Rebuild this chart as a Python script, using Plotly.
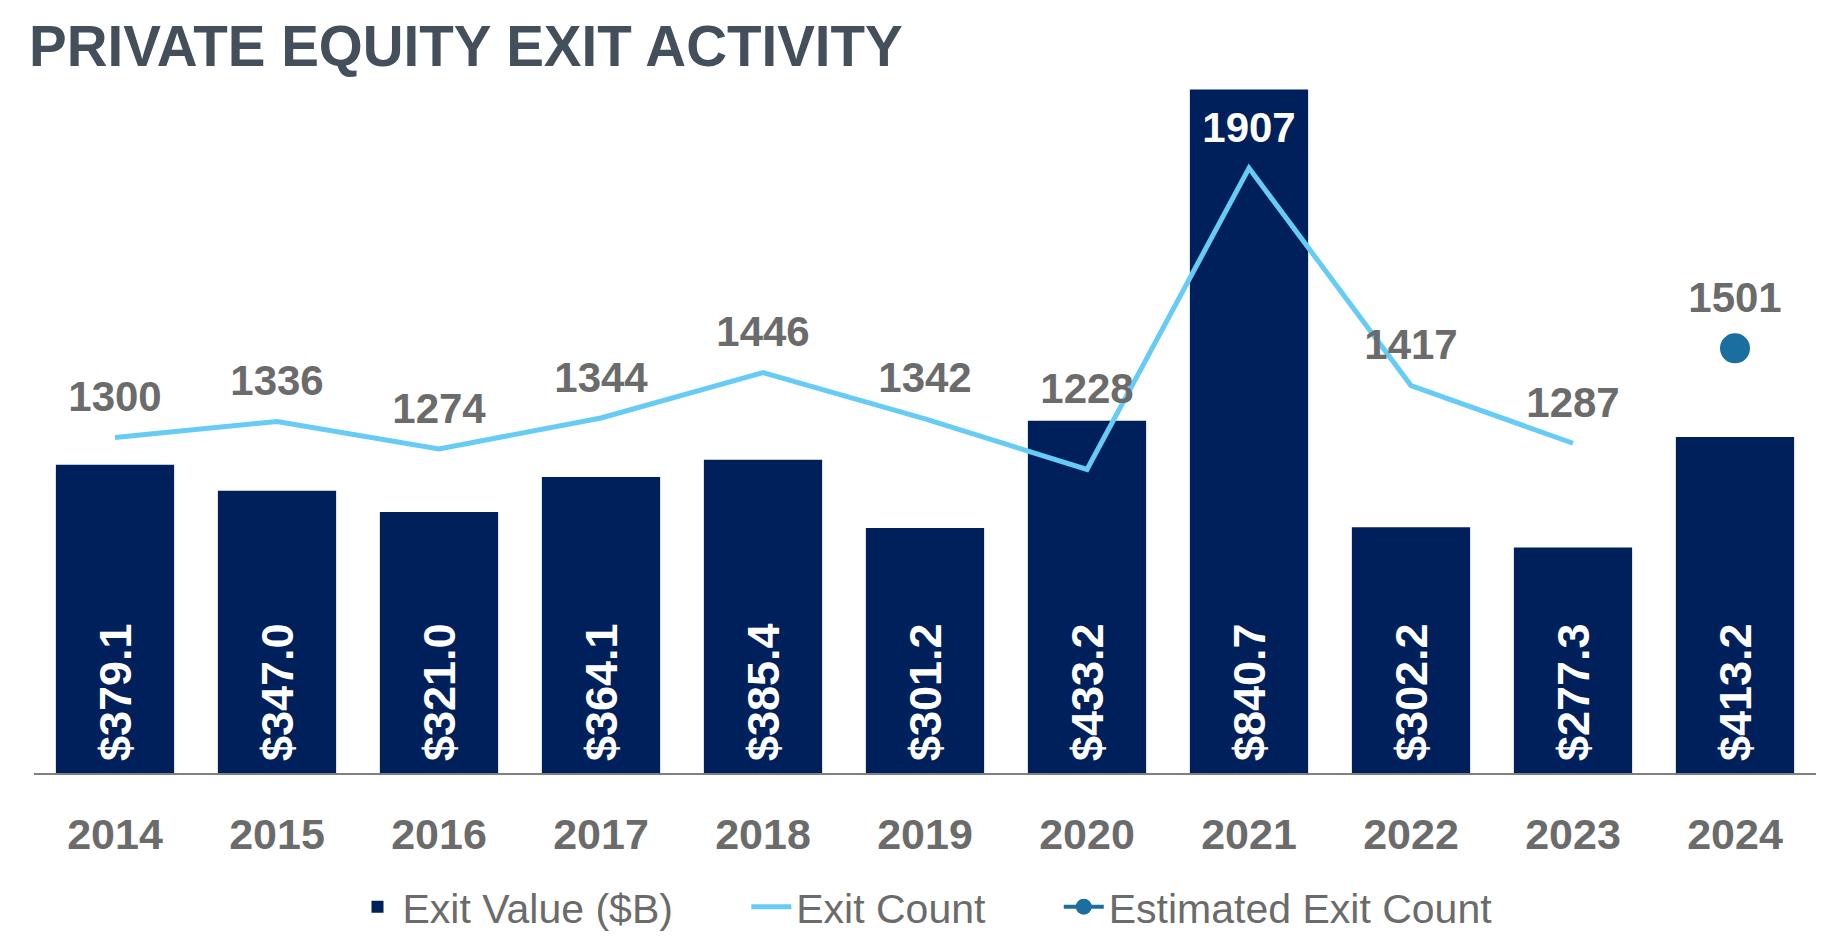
import plotly.graph_objects as go

years = ["2014", "2015", "2016", "2017", "2018", "2019", "2020", "2021", "2022", "2023", "2024"]
exit_value = [379.1, 347.0, 321.0, 364.1, 385.4, 301.2, 433.2, 840.7, 302.2, 277.3, 413.2]
count_years = ["2014", "2015", "2016", "2017", "2018", "2019", "2020", "2021", "2022", "2023"]
exit_count = [1300, 1336, 1274, 1344, 1446, 1342, 1228, 1907, 1417, 1287]
est_years = ["2024"]
est_count = [1501]

NAVY = "#00205B"
LIGHT = "#66CCF5"
DOT = "#1A6FA0"
GRAY = "#6B6B6B"
TITLE = "#434F5B"
FONT = "Liberation Sans, Arial, sans-serif"

W, H = 1846, 952
L, R, T, B = 34, 1816, 75, 775.5
ph = B - T
PX2 = 0.4454  # px per count unit on secondary axis
NB = "\u00a0"

fig = go.Figure()
fig.add_trace(go.Bar(
    x=years, y=exit_value, name="Exit Value ($B)" + NB * 6,
    marker=dict(color=NAVY, line=dict(width=0)),
    texttemplate="\u2009$%{y:.1f}", textposition="inside", insidetextanchor="start",
    textangle=-90, textfont=dict(color="white", size=45, family=FONT, weight="bold"),
    cliponaxis=False, yaxis="y",
))
fig.add_trace(go.Scatter(
    x=count_years, y=exit_count, name="Exit Count" + NB * 6, mode="lines",
    line=dict(color=LIGHT, width=5), yaxis="y2",
))
fig.add_trace(go.Scatter(
    x=est_years, y=est_count, name="Estimated Exit Count", mode="lines+markers",
    line=dict(color=DOT, width=4), marker=dict(color=DOT, size=30), yaxis="y2",
))

# count labels (text traces, shifted up in pixel terms)
shifts = {"2020": 77, "2024": 47}
all_years = count_years + est_years
all_counts = exit_count + est_count
fig.add_trace(go.Scatter(
    x=all_years,
    y=[c + shifts.get(yr, 37) / PX2 for yr, c in zip(all_years, all_counts)],
    text=[str(c) for c in all_counts],
    mode="text", textposition="middle center", showlegend=False, hoverinfo="skip",
    textfont=dict(size=42, family=FONT, weight="bold",
                  color=["white" if yr == "2021" else GRAY for yr in all_years]),
    yaxis="y2", cliponaxis=False,
))

fig.update_layout(
    width=W, height=H,
    margin=dict(l=L, r=W - R, t=T, b=H - B, pad=0),
    paper_bgcolor="white", plot_bgcolor="white",
    bargap=0.27,
    showlegend=True,
    legend=dict(orientation="h", x=0.5, xanchor="center", y=-(910 - B) / ph, yanchor="middle",
                font=dict(size=41, family=FONT, color=GRAY), itemwidth=40, tracegroupgap=0,
                bgcolor="rgba(0,0,0,0)"),
    title=dict(text="<b>PRIVATE EQUITY EXIT ACTIVITY</b>", x=29 / W, xref="container", xanchor="left",
               y=1 - 46 / H, yref="container", yanchor="middle",
               font=dict(size=56.5, family=FONT, color=TITLE)),
    xaxis=dict(type="category", range=[-0.5, 10.5], showline=True, linecolor="#7F7F7F", linewidth=2,
               showgrid=False, ticks="", ticklabelstandoff=22,
               tickfont=dict(size=43, family=FONT, color=GRAY, weight="bold")),
    yaxis=dict(range=[0, ph / 0.816], visible=False, showgrid=False, zeroline=False),
    yaxis2=dict(range=[544, 544 + ph / PX2], overlaying="y", visible=False, showgrid=False, zeroline=False),
)

fig.write_html("out.html")
